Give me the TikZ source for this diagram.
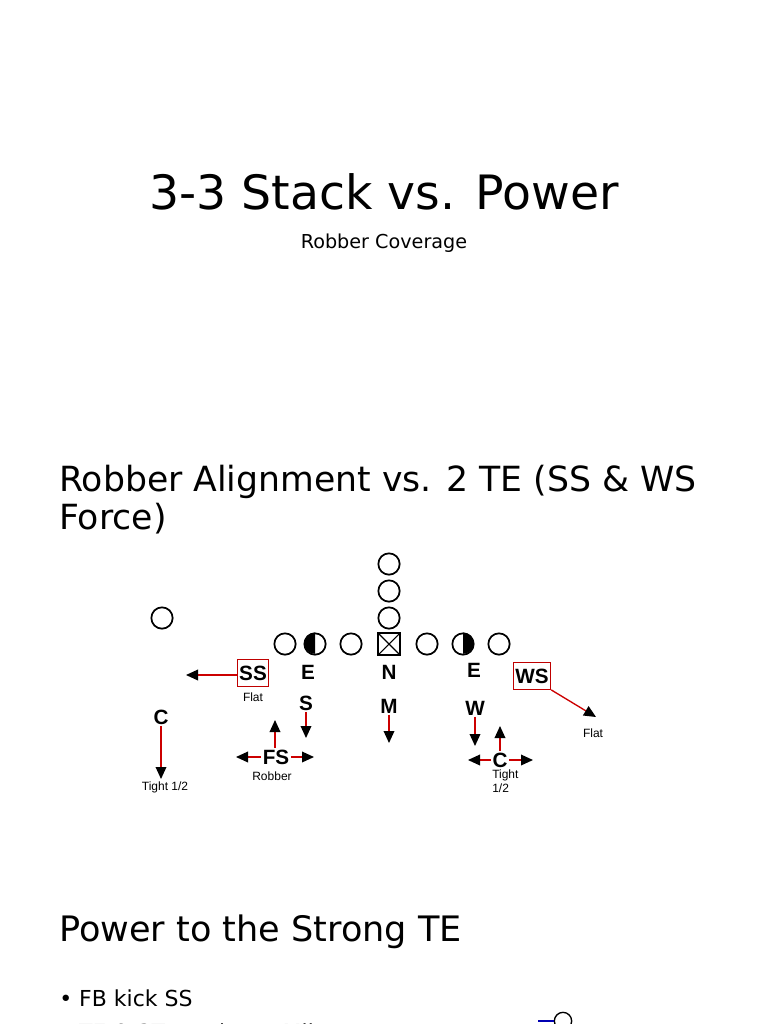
\documentclass[tikz,border=0pt]{standalone}
\usepackage{fontspec}
\setmainfont{DejaVu Sans}
\newfontfamily\arialf{Liberation Sans}
\usetikzlibrary{arrows.meta}
\begin{document}
\begin{tikzpicture}[x=0.75pt,y=-0.75pt,
  pl/.style={circle,draw,line width=1.3pt,minimum size=16pt,inner sep=0},
  lab/.style={font=\arialf\bfseries\fontsize{15.5}{15.5}\selectfont,inner sep=1pt},
  small/.style={font=\arialf\fontsize{9}{10}\selectfont,inner sep=0,align=center},
  boxed/.style={lab,draw=red!75!black,line width=0.8pt,inner sep=1.5pt,minimum height=20pt},
  mv/.style={red!80!black,line width=1pt,-{Triangle[black,length=9pt,width=8pt]}}]
\useasboundingbox (0,0) rectangle (768,1024);
\fill[white] (0,0) rectangle (768,1024);
\node (title) at (384,192) {\fontsize{35.5}{40}\selectfont 3-3 Stack vs. Power};
\node (sub) at (384,243) {\fontsize{14.4}{16}\selectfont Robber Coverage};
\node[anchor=west,align=left,inner sep=0,font=\fontsize{26}{28.5}\selectfont] (h1) at (59,500) {Robber Alignment vs. 2 TE (SS \& WS\\Force)};
% offense
\node[pl] (b1) at (389,564) {};
\node[pl] (b2) at (389,591) {};
\node[pl] (b3) at (389,618) {};
\node[pl] (wr) at (162,618) {};
\node[pl] (t1) at (285,644) {};
\node[pl] (e1) at (315,644) {};
\fill (e1.north) arc (90:270:8pt) -- cycle;
\node[pl] (g1) at (351,644) {};
\node[draw,line width=1.3pt,minimum size=16pt,inner sep=0] (ctr) at (389,644) {};
\draw[line width=0.8pt] (ctr.north west)--(ctr.south east) (ctr.north east)--(ctr.south west);
\node[pl] (g2) at (427,644) {};
\node[pl] (e2) at (463,644) {};
\fill (e2.north) arc (90:-90:8pt) -- cycle;
\node[pl] (t2) at (499,644) {};
% defense
\node[boxed] (ss) at (253,673) {SS};
\node[lab] (de1) at (308,672) {E};
\node[lab] (nt) at (389,672) {N};
\node[lab] (de2) at (474,670) {E};
\node[boxed] (ws) at (532,676) {WS};
\node[lab] (sl) at (306,703) {S};
\node[lab] (ml) at (389,706) {M};
\node[lab] (wl) at (475,708) {W};
\node[lab] (cl) at (161,717) {C};
\node[lab] (fs) at (276,757) {FS};
\node[lab] (cr) at (500,760) {C};
\coordinate (ssT) at (186,675);
\coordinate (clT) at (161,779);
\coordinate (slT) at (306,738);
\coordinate (mlT) at (389,743);
\coordinate (wlT) at (475,746);
\coordinate (fsU) at (275,720);
\coordinate (fsL) at (236,757);
\coordinate (fsR) at (314,757);
\coordinate (crU) at (500,726);
\coordinate (crL) at (468,760);
\coordinate (crR) at (533,760);
\coordinate (wsT) at (596,717);
\draw[mv] (ss.west |- ssT) -- (ssT);
\draw[mv] (cl.south) -- (clT);
\draw[mv] (sl.south) -- (slT);
\draw[mv] (ml.south) -- (mlT);
\draw[mv] (wl.south) -- (wlT);
\draw[mv] (fs.north -| fsU) -- (fsU);
\draw[mv] (fs.west) -- (fsL);
\draw[mv] (fs.east) -- (fsR);
\draw[mv] (cr.north) -- (crU);
\draw[mv] (cr.west) -- (crL);
\draw[mv] (cr.east) -- (crR);
\draw[mv] (ws.south east) -- (wsT);
\node[small] (f1) at (253,697) {Flat};
\node[small] (f2) at (593,733) {Flat};
\node[small] (t12) at (165,787) {Tight 1/2};
\node[small] (rob) at (272,776) {Robber};
\node[small,align=left,anchor=north west] (t12b) at (492,770) {Tight\\1/2};
% section 2
\node[anchor=west,inner sep=0,font=\fontsize{26.3}{30}\selectfont] (h2) at (59,932) {Power to the Strong TE};
\node[anchor=west,inner sep=0,font=\fontsize{16.5}{19}\selectfont] (bl1) at (59,998) {• FB kick SS};
\node[anchor=west,inner sep=0,font=\fontsize{16.5}{19}\selectfont] (bl2) at (59,1032) {• TE \& 3T combo to Mike};
\node[circle,draw,line width=1pt,minimum size=13pt,inner sep=0] (pc) at (563,1021) {};
\draw[blue!70!black,line width=1.5pt] (pc.west) -- ++(-16,0);
\end{tikzpicture}
\end{document}
